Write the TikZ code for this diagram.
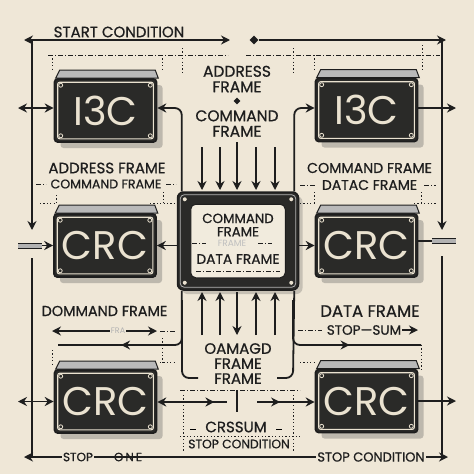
\documentclass[tikz,border=0pt]{standalone}
\usepackage{fontspec}
\setmainfont{Poppins}
\newfontfamily\labfont{Poppins}[FakeBold=0.7]
\usetikzlibrary{arrows.meta,calc,shadows,shapes.geometric,decorations.markings}
\definecolor{bg}{HTML}{EFE7D7}
\definecolor{ink}{HTML}{1E1E1E}
\definecolor{chipfill}{HTML}{2A2A28}
\definecolor{cream}{HTML}{EAE2D0}
\definecolor{paper}{HTML}{F1EBDD}
\tikzset{
  chip/.style={draw=ink, line width=1.6pt, fill=chipfill, rounded corners=3pt,
    minimum width=102pt, minimum height=63pt, inner sep=0pt, text=cream,
    font=\fontsize{40}{40}\selectfont,
    drop shadow={shadow xshift=6pt, shadow yshift=-6pt, opacity=0.3, fill=black!70}},
  wire/.style={draw=ink, line width=1.8pt},
  thin wire/.style={draw=ink, line width=1.4pt},
  tip/.style={-{Stealth[length=9pt,width=9pt]}},
  both tips/.style={{Stealth[length=9pt,width=9pt]}-{Stealth[length=9pt,width=9pt]}},
  back tip/.style={{Stealth[length=9pt,width=9pt]}-},
  guide/.style={draw=ink, line width=0.8pt, dash pattern=on 5pt off 2pt on 1pt off 2pt},
  dotguide/.style={draw=ink, line width=0.9pt, dash pattern=on 1.2pt off 2.2pt},
  lab/.style={text=ink, inner sep=1pt, align=center, font=\labfont\fontsize{#1}{#1}\selectfont},
  lab/.default=12,
  midarrow/.style={postaction={decorate}, decoration={markings,
    mark=at position #1 with {\arrow{Stealth[length=9pt,width=9pt]}}}},
}
\newcommand\chipdeco[1]{%
  \filldraw[fill=gray!55, draw=ink, line width=1pt] ($(#1.north west)+(2pt,0)$) -- ($(#1.north west)+(6pt,8pt)$) -- ($(#1.north east)+(-2pt,8pt)$) -- ($(#1.north east)+(1pt,0)$) -- cycle;
  \draw[cream, line width=1.1pt, rounded corners=2pt] ($(#1.north west)+(4pt,-4pt)$) rectangle ($(#1.south east)+(-4pt,4pt)$);
  \filldraw[fill=chipfill, draw=cream, line width=0.8pt] ($(#1.north west)+(7pt,-7pt)$) circle (2pt);
  \filldraw[fill=chipfill, draw=cream, line width=0.8pt] ($(#1.north east)+(-7pt,-7pt)$) circle (2pt);
  \filldraw[fill=chipfill, draw=cream, line width=0.8pt] ($(#1.south west)+(7pt,7pt)$) circle (2pt);
  \filldraw[fill=chipfill, draw=cream, line width=0.8pt] ($(#1.south east)+(-7pt,7pt)$) circle (2pt);
}
\begin{document}
\begin{tikzpicture}[x=1pt,y=-1pt]
\fill[bg] (0,0) rectangle (474,474);
\useasboundingbox (0,0) rectangle (474,474);

% ---------- guides ----------
\draw[guide] (48,55) -- (228,55);
\draw[guide] (246,55) -- (440,55);
\draw[dotguide] (52,55) -- (52,70);
\draw[dotguide] (162,55) -- (162,70);
\draw[dotguide] (182,48) -- (182,72);
\draw[dotguide] (293,48) -- (293,72);
\draw[dotguide] (314,55) -- (314,70);
\draw[dotguide] (422,45) -- (422,70);
\draw[guide] (36,184) -- (46,184);
\draw[guide] (166,184) -- (176,184);
\draw[guide] (300,185) -- (316,185);
\draw[guide] (424,185) -- (436,185);
\draw[dotguide] (40,203) -- (56,203);
\draw[dotguide] (150,203) -- (176,203);
\draw[dotguide] (300,203) -- (316,203);
\draw[dotguide] (414,203) -- (436,203);
\draw[dotguide] (56,195) -- (56,205);
\draw[dotguide] (163,192) -- (163,205);
\draw[dotguide] (314,192) -- (314,205);
\draw[dotguide] (421,192) -- (421,205);
\draw[guide] (298,330) -- (322,330);
\draw[dotguide] (421,345) -- (421,372);
\draw[dotguide] (52,350) -- (52,365);
\draw[dotguide] (162,338) -- (162,365);
\draw[dotguide] (160,362) -- (176,362);
\draw[dotguide] (300,362) -- (316,362);
\draw[guide] (180,390) -- (300,390);
\draw[dotguide] (180,436) -- (300,436);
\draw[dotguide] (183,395) -- (183,452);
\draw[dotguide] (293,395) -- (293,452);
\draw[line width=1.2pt, draw=ink] (237,390) -- (237,412);

% ---------- outer frame ----------
\coordinate (fTL) at (24,40);
\coordinate (fTM) at (230,40);
\coordinate (fTR) at (446,40);
\coordinate (fBL) at (24,457);
\coordinate (fBR) at (448,457);
\coordinate (lTop) at (32,40);
\coordinate (lArr) at (32,230);
\coordinate (lRes) at (32,258);
\coordinate (lBot) at (32,457);
\coordinate (rTop) at (442,40);
\coordinate (rArr) at (442,230);
\coordinate (rRes) at (442,256);
\coordinate (rBot) at (442,457);
\node[diamond, fill=ink, inner sep=0pt, minimum size=9pt] (dmTop) at (254,40) {};
\draw[wire, both tips] (fTL) -- (fTM);
\draw[wire, tip] (dmTop) -- (fTR);
\draw[wire, tip] (lTop) -- (lArr);
\draw[wire] (lRes) -- (lBot);
\draw[wire, tip] (rTop) -- (rArr);
\draw[wire] (rRes) -- (rBot);
\draw[wire, both tips] (fBL) -- (fBR);

% ---------- chips ----------
\node[chip] (i3cL) at (105.5,110.5) {I3C};
\node[chip] (i3cR) at (366.5,110) {I3C};
\node[chip] (crcL) at (105,245.5) {CRC};
\node[chip] (crcR) at (366.5,245.5) {CRC};
\node[chip] (crcBL) at (105.5,401.5) {CRC};
\node[chip] (crcBR) at (366.5,401) {CRC};
\chipdeco{i3cL}\chipdeco{i3cR}\chipdeco{crcL}\chipdeco{crcR}\chipdeco{crcBL}\chipdeco{crcBR}

% ---------- centre box ----------
\node[draw=ink, line width=1.5pt, fill=chipfill, rounded corners=6pt,
  minimum width=121pt, minimum height=98pt,
  drop shadow={shadow xshift=4pt, shadow yshift=-4pt, opacity=0.25, fill=black!70}] (ctr) at (238,241) {};
\draw[gray!60, line width=0.8pt, rounded corners=4pt] ($(ctr.north west)+(3.5pt,-3.5pt)$) rectangle ($(ctr.south east)+(-3.5pt,3.5pt)$);
\filldraw[fill=paper, draw=ink, line width=1pt, rounded corners=5pt] ($(ctr.north west)+(14pt,-13pt)$) rectangle ($(ctr.south east)+(-14pt,13pt)$);
\fill[cream] ($(ctr.north west)+(8pt,-8pt)$) circle (2pt);
\fill[cream] ($(ctr.north east)+(-8pt,-8pt)$) circle (2pt);
\fill[cream] ($(ctr.south west)+(8pt,8pt)$) circle (2pt);
\fill[cream] ($(ctr.south east)+(-8pt,8pt)$) circle (2pt);
\node[lab=13.3] (cbCmd) at (238,225) {COMMAND\\FRAME};
\node[lab=13.8] (cbData) at (238,259) {DATA FRAME};
\draw[guide] (192,243) -- (206,243);
\draw[guide] (258,243) -- (272,243);
\node[text=gray!50, font=\fontsize{9}{9}\selectfont] (cbGhost) at (232,243) {FRAME};
\draw[guide] (196,271) -- (280,271);

% ---------- chip stubs ----------
\coordinate (sL1) at (18,108);
\coordinate (sR1) at (456,108);
\coordinate (sL2) at (18,245.5);
\coordinate (sR2) at (456,241);
\coordinate (sL3) at (18,401.5);
\coordinate (sR3) at (456,401);
\draw[wire, both tips] (sL1) -- (i3cL.west |- sL1);
\draw[wire, tip] (i3cR.east |- sR1) -- (sR1);
\draw[line width=4.5pt, draw=gray!60] (sL2) -- ++(24,0);
\draw[line width=0.6pt, draw=ink] (18,243.2) -- ++(24,0) (18,247.8) -- ++(24,0);
\draw[wire, tip] (42,245.5) -- (crcL.west);
\draw[wire] (crcR.east |- sR2) -- (432,241);
\draw[line width=4.5pt, draw=gray!60] (432,241) -- (sR2);
\draw[line width=0.6pt, draw=ink] (432,238.7) -- (456,238.7) (432,243.3) -- (456,243.3);
\draw[wire, both tips] (sL3) -- (crcBL.west);
\draw[wire, tip] (crcBR.east) -- (sR3);

% ---------- centre connections ----------
\draw[wire, rounded corners=7pt, tip] ($(ctr.north west)+(5pt,0)$) |- (i3cL.east |- sL1);
\draw[wire, rounded corners=7pt, tip] ($(ctr.north east)+(-5pt,0)$) |- (i3cR.west |- sR1);
\draw[wire, tip] (ctr.west |- crcL) -- (crcL.east);
\draw[wire, tip] (ctr.east |- crcR) -- (crcR.west);
\foreach \xx/\yy in {202/147,220/147,237/142,256/147,275/147}{
  \draw[thin wire, tip] (\xx,\yy) -- (\xx,190);
}
\foreach \xx in {202,220,256,275}{
  \draw[thin wire, tip] (\xx,335) -- (\xx,292);
}
\draw[thin wire, tip] (237,292) -- (237,335);
\draw[wire, rounded corners=7pt] ($(ctr.south west)+(5pt,0)$) -- (182,378) -- (198,378);
\draw[wire, rounded corners=7pt] ($(ctr.south east)+(-5pt,0)$) -- (293,378) -- (277,378);
\coordinate (brL) at (58,345);
\coordinate (brR) at (421,345);
\draw[wire, rounded corners=7pt, midarrow=0.62] (182,300) |- (brL);
\draw[wire, rounded corners=7pt, midarrow=0.58] (293,300) |- (brR);
\coordinate (bmL) at (227,402);
\coordinate (bmR) at (257,402);
\draw[wire, back tip, midarrow=0.82] (crcBL.east |- bmL) -- (bmL);
\draw[wire, tip, midarrow=0.4] (bmR) -- (crcBR.west |- bmR);
\coordinate (fraL) at (52,331);
\coordinate (fraR) at (157,331);
\draw[wire, both tips] (fraL) -- (fraR);
\node[text=gray!60, fill=bg, inner sep=1pt, font=\fontsize{8}{8}\selectfont] (tFra) at (118,331) {FRA};
\draw[guide] (160,331) -- (176,331);
\coordinate (ssEnd) at (418,330);

% ---------- labels ----------
\node[lab=15] (tStart) at (119,32) {START CONDITION};
\node[lab=15.5] (tAddr) at (237,79) {ADDRESS\\FRAME};
\node[diamond, fill=ink, inner sep=0pt, minimum size=7pt] (dmMid) at (237,101) {};
\node[lab=15.5] (tCmd) at (237,123.5) {COMMAND\\FRAME};
\node[lab=15] (tAddrL) at (107,168) {ADDRESS FRAME};
\node[lab=12.6] (tCmdL) at (106,184) {COMMAND FRAME};
\node[lab=14.2] (tCmdR) at (369.5,168) {COMMAND FRAME};
\node[lab=14] (tDataR) at (369.5,185) {DATAC FRAME};
\node[lab=14.4] (tDomL) at (104.5,311) {DOMMAND FRAME};
\node[lab=16.5] (tDataR2) at (370,311) {DATA FRAME};
\node[lab=13.5, fill=bg] (tStopSum) at (364,330) {STOP—SUM};
\draw[wire, tip] (tStopSum.east) -- (ssEnd);
\node[lab=15] (tOam) at (238,363.5) {OAMAGD\\FRAME\\FRAME};
\node[lab=15] (tCrs) at (236,427) {CRSSUM};
\draw[line width=1pt] (190,429) -- (196,429) (276,429) -- (282,429);
\node[lab=12.3] (tStopC) at (239,444) {STOP CONDITION};
\node[lab=13, fill=bg] (tStopR) at (371,457) {STOP CONDITION};
\node[lab=12, fill=bg] (tStopL) at (78,457) {STOP};
\node[lab=12] (tOne) at (128,457) {O\,N\,E};
\end{tikzpicture}
\end{document}
